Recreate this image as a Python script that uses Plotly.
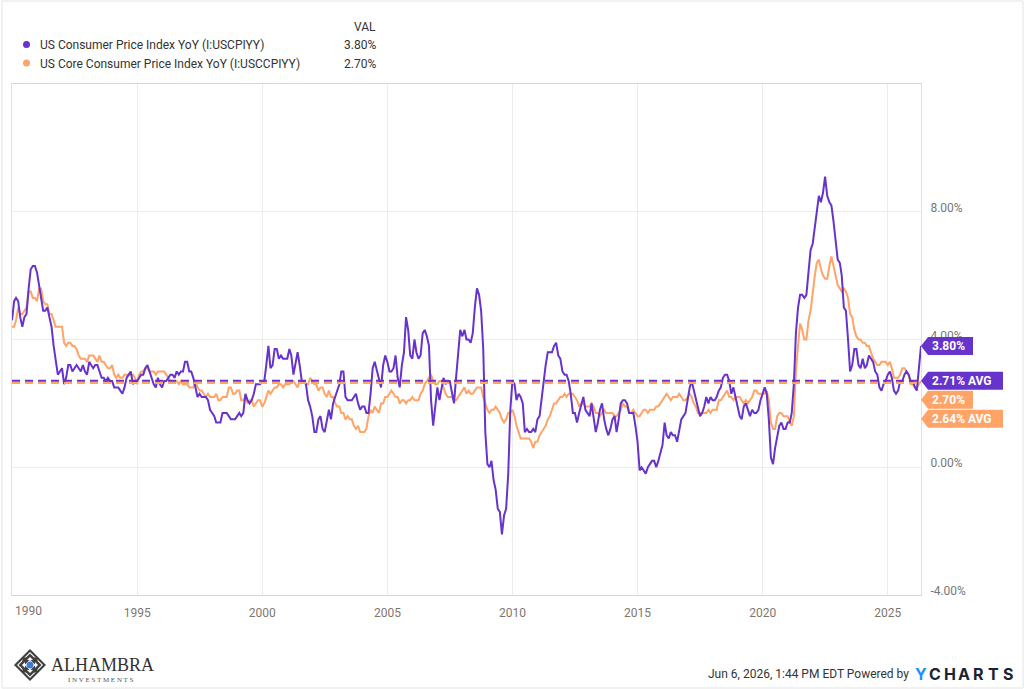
import plotly.graph_objects as go
import pandas as pd

# ---------------- data (monthly YoY %, Dec 1989 .. Apr 2026, month-end dates) ----------------
first_month = "1989-12-01"

cpi_yoy = [
    4.6,                                                          # Dec 1989
    5.2, 5.3, 5.2, 4.7, 4.4, 4.7, 4.8, 5.6, 6.2, 6.3, 6.3, 6.1,   # 1990
    5.7, 5.3, 4.9, 4.9, 5.0, 4.7, 4.4, 3.8, 3.4, 2.9, 3.0, 3.1,   # 1991
    2.6, 2.8, 3.2, 3.2, 3.0, 3.1, 3.2, 3.1, 3.0, 3.2, 3.0, 2.9,   # 1992
    3.3, 3.2, 3.1, 3.2, 3.2, 3.0, 2.8, 2.8, 2.7, 2.8, 2.7, 2.7,   # 1993
    2.5, 2.5, 2.5, 2.4, 2.3, 2.5, 2.8, 2.9, 3.0, 2.6, 2.7, 2.7,   # 1994
    2.8, 2.9, 2.9, 3.1, 3.2, 3.0, 2.8, 2.6, 2.5, 2.8, 2.6, 2.5,   # 1995
    2.7, 2.7, 2.8, 2.9, 2.9, 2.8, 3.0, 2.9, 3.0, 3.0, 3.3, 3.3,   # 1996
    3.0, 3.0, 2.8, 2.5, 2.2, 2.3, 2.2, 2.2, 2.2, 2.1, 1.8, 1.7,   # 1997
    1.6, 1.4, 1.4, 1.4, 1.7, 1.7, 1.7, 1.6, 1.5, 1.5, 1.5, 1.6,   # 1998
    1.7, 1.6, 1.7, 2.3, 2.1, 2.0, 2.1, 2.3, 2.6, 2.6, 2.6, 2.7,   # 1999
    2.7, 3.2, 3.8, 3.1, 3.2, 3.7, 3.7, 3.4, 3.5, 3.4, 3.4, 3.4,   # 2000
    3.7, 3.5, 2.9, 3.3, 3.6, 3.2, 2.7, 2.7, 2.6, 2.1, 1.9, 1.6,   # 2001
    1.1, 1.1, 1.5, 1.6, 1.2, 1.1, 1.5, 1.8, 1.5, 2.0, 2.2, 2.4,   # 2002
    2.6, 3.0, 3.0, 2.2, 2.1, 2.1, 2.1, 2.2, 2.3, 2.0, 1.8, 1.9,   # 2003
    1.9, 1.7, 1.7, 2.3, 3.1, 3.3, 3.0, 2.7, 2.5, 3.2, 3.5, 3.3,   # 2004
    3.0, 3.0, 3.1, 3.5, 2.8, 2.5, 3.2, 3.6, 4.7, 4.3, 3.5, 3.4,   # 2005
    4.0, 3.6, 3.4, 3.5, 4.2, 4.3, 4.1, 3.8, 2.1, 1.3, 2.0, 2.5,   # 2006
    2.1, 2.4, 2.8, 2.6, 2.7, 2.7, 2.4, 2.0, 2.8, 3.5, 4.3, 4.1,   # 2007
    4.3, 4.0, 4.0, 3.9, 4.2, 5.0, 5.6, 5.4, 4.9, 3.7, 1.1, 0.1,   # 2008
    0.0, 0.2, -0.4, -0.7, -1.3, -1.4, -2.1, -1.5, -1.3, -0.2, 1.8, 2.7,  # 2009
    2.6, 2.1, 2.3, 2.2, 2.0, 1.1, 1.2, 1.1, 1.1, 1.2, 1.1, 1.5,   # 2010
    1.6, 2.1, 2.7, 3.2, 3.6, 3.6, 3.6, 3.8, 3.9, 3.5, 3.4, 3.0,   # 2011
    2.9, 2.9, 2.7, 2.3, 1.7, 1.7, 1.4, 1.7, 2.0, 2.2, 1.8, 1.7,   # 2012
    1.6, 2.0, 1.5, 1.1, 1.4, 1.8, 2.0, 1.5, 1.2, 1.0, 1.2, 1.5,   # 2013
    1.6, 1.1, 1.5, 2.0, 2.1, 2.1, 2.0, 1.7, 1.7, 1.7, 1.3, 0.8,   # 2014
    -0.1, 0.0, -0.1, -0.2, 0.0, 0.1, 0.2, 0.2, 0.0, 0.2, 0.5, 0.7,  # 2015
    1.4, 1.0, 0.9, 1.1, 1.0, 1.0, 0.8, 1.1, 1.5, 1.6, 1.7, 2.1,   # 2016
    2.5, 2.7, 2.4, 2.2, 1.9, 1.6, 1.7, 1.9, 2.2, 2.0, 2.2, 2.1,   # 2017
    2.1, 2.2, 2.4, 2.5, 2.8, 2.9, 2.9, 2.7, 2.3, 2.5, 2.2, 1.9,   # 2018
    1.6, 1.5, 1.9, 2.0, 1.8, 1.6, 1.8, 1.7, 1.7, 1.8, 2.1, 2.3,   # 2019
    2.5, 2.3, 1.5, 0.3, 0.1, 0.6, 1.0, 1.3, 1.4, 1.2, 1.2, 1.4,   # 2020
    1.4, 1.7, 2.6, 4.2, 5.0, 5.4, 5.4, 5.3, 5.4, 6.2, 6.8, 7.0,   # 2021
    7.5, 7.9, 8.5, 8.3, 8.6, 9.1, 8.5, 8.3, 8.2, 7.7, 7.1, 6.5,   # 2022
    6.4, 6.0, 5.0, 4.9, 4.0, 3.0, 3.2, 3.7, 3.7, 3.2, 3.1, 3.4,   # 2023
    3.1, 3.2, 3.5, 3.4, 3.3, 3.0, 2.9, 2.5, 2.4, 2.6, 2.7, 2.9,   # 2024
    3.0, 2.8, 2.4, 2.3, 2.4, 2.7, 2.7, 2.9, 3.0, 2.9, 2.7, 2.7,   # 2025
    2.5, 2.4, 3.1, 3.8,                                           # 2026
]

core_yoy = [
    4.4,                                                          # Dec 1989
    4.4, 4.6, 5.0, 4.8, 4.8, 4.9, 5.0, 5.5, 5.5, 5.3, 5.3, 5.2,   # 1990
    5.6, 5.6, 5.2, 5.1, 5.1, 4.8, 4.8, 4.6, 4.4, 4.4, 4.4, 4.4,   # 1991
    3.9, 3.8, 3.9, 3.9, 3.8, 3.8, 3.7, 3.5, 3.4, 3.4, 3.4, 3.3,   # 1992
    3.5, 3.5, 3.5, 3.4, 3.3, 3.5, 3.3, 3.3, 3.2, 3.1, 3.1, 3.2,   # 1993
    2.9, 2.8, 2.9, 2.8, 2.8, 2.9, 2.9, 2.9, 2.9, 2.9, 2.8, 2.6,   # 1994
    2.9, 3.0, 3.0, 3.1, 3.1, 3.0, 3.0, 3.0, 2.9, 3.0, 3.0, 3.0,   # 1995
    3.0, 2.9, 2.8, 2.7, 2.7, 2.7, 2.7, 2.6, 2.7, 2.6, 2.6, 2.6,   # 1996
    2.5, 2.5, 2.5, 2.7, 2.5, 2.4, 2.4, 2.3, 2.2, 2.3, 2.2, 2.2,   # 1997
    2.2, 2.3, 2.1, 2.1, 2.2, 2.2, 2.2, 2.5, 2.5, 2.3, 2.3, 2.4,   # 1998
    2.4, 2.1, 2.1, 2.2, 2.0, 2.1, 2.1, 1.9, 2.0, 2.1, 2.1, 1.9,   # 1999
    2.0, 2.2, 2.4, 2.3, 2.4, 2.5, 2.5, 2.6, 2.6, 2.5, 2.6, 2.6,   # 2000
    2.6, 2.7, 2.7, 2.6, 2.5, 2.7, 2.7, 2.7, 2.6, 2.6, 2.8, 2.7,   # 2001
    2.6, 2.6, 2.4, 2.5, 2.5, 2.3, 2.2, 2.4, 2.2, 2.2, 2.0, 1.9,   # 2002
    1.9, 1.7, 1.7, 1.5, 1.6, 1.5, 1.5, 1.3, 1.2, 1.3, 1.1, 1.1,   # 2003
    1.1, 1.2, 1.6, 1.8, 1.7, 1.9, 1.8, 1.7, 2.0, 2.0, 2.2, 2.2,   # 2004
    2.3, 2.4, 2.3, 2.2, 2.2, 2.0, 2.1, 2.1, 2.0, 2.1, 2.1, 2.2,   # 2005
    2.1, 2.1, 2.1, 2.3, 2.4, 2.6, 2.7, 2.8, 2.9, 2.7, 2.6, 2.6,   # 2006
    2.7, 2.7, 2.5, 2.3, 2.2, 2.2, 2.2, 2.1, 2.1, 2.2, 2.3, 2.4,   # 2007
    2.5, 2.3, 2.4, 2.3, 2.3, 2.4, 2.5, 2.5, 2.5, 2.2, 2.0, 1.8,   # 2008
    1.7, 1.8, 1.8, 1.9, 1.8, 1.7, 1.5, 1.4, 1.5, 1.7, 1.7, 1.8,   # 2009
    1.6, 1.3, 1.1, 0.9, 0.9, 0.9, 0.9, 0.9, 0.8, 0.6, 0.8, 0.8,   # 2010
    1.0, 1.1, 1.2, 1.3, 1.5, 1.6, 1.8, 2.0, 2.0, 2.1, 2.2, 2.2,   # 2011
    2.3, 2.2, 2.3, 2.3, 2.3, 2.2, 2.1, 1.9, 2.0, 2.0, 1.9, 1.9,   # 2012
    1.9, 2.0, 1.9, 1.7, 1.7, 1.6, 1.7, 1.8, 1.7, 1.7, 1.7, 1.7,   # 2013
    1.6, 1.6, 1.7, 1.8, 2.0, 1.9, 1.9, 1.7, 1.7, 1.8, 1.7, 1.6,   # 2014
    1.6, 1.7, 1.8, 1.8, 1.7, 1.8, 1.8, 1.8, 1.9, 1.9, 2.0, 2.1,   # 2015
    2.2, 2.3, 2.2, 2.1, 2.2, 2.2, 2.2, 2.3, 2.2, 2.1, 2.1, 2.2,   # 2016
    2.3, 2.2, 2.0, 1.9, 1.7, 1.7, 1.7, 1.7, 1.7, 1.8, 1.7, 1.8,   # 2017
    1.8, 1.8, 2.1, 2.1, 2.2, 2.3, 2.4, 2.2, 2.2, 2.1, 2.2, 2.2,   # 2018
    2.2, 2.1, 2.0, 2.1, 2.0, 2.1, 2.2, 2.4, 2.4, 2.3, 2.3, 2.3,   # 2019
    2.3, 2.4, 2.1, 1.4, 1.2, 1.2, 1.6, 1.7, 1.7, 1.6, 1.6, 1.6,   # 2020
    1.4, 1.3, 1.6, 3.0, 3.8, 4.5, 4.3, 4.0, 4.0, 4.6, 4.9, 5.5,   # 2021
    6.0, 6.4, 6.5, 6.2, 6.0, 5.9, 5.9, 6.3, 6.6, 6.3, 6.0, 5.7,   # 2022
    5.6, 5.5, 5.6, 5.5, 5.3, 4.8, 4.7, 4.3, 4.1, 4.0, 4.0, 3.9,   # 2023
    3.9, 3.8, 3.8, 3.6, 3.4, 3.3, 3.2, 3.2, 3.3, 3.3, 3.3, 3.2,   # 2024
    3.3, 3.1, 2.8, 2.8, 2.8, 2.9, 3.1, 3.1, 3.0, 2.9, 2.6, 2.6,   # 2025
    2.5, 2.5, 2.6, 2.7,                                           # 2026
]

series_names = ["US Consumer Price Index YoY (I:USCPIYY)",
                "US Core Consumer Price Index YoY (I:USCCPIYY)"]
last_values = [3.80, 2.70]
avg_values = [2.71, 2.64]
x_tick_years = [1990, 1995, 2000, 2005, 2010, 2015, 2020, 2025]
y_tick_vals = [-4, 0, 4, 8]
y_tick_text = ["-4.00%", "0.00%", "4.00%", "8.00%"]

# ---------------- styling ----------------
PURPLE = "#6633CC"
ORANGE = "#FFA366"
W, H = 1024, 689
ML, MR, MT, MB = 12, 103, 84, 94
PW, PH = W - ML - MR, H - MT - MB
Y_MIN, Y_MAX = -4, 12
FONT = "Roboto"


def px_x(px):
    return (px - ML) / PW


def px_y(py):
    return (H - MB - py) / PH


def val_y(v):
    return (v - Y_MIN) / (Y_MAX - Y_MIN)


dates = pd.date_range(first_month, periods=len(cpi_yoy), freq="MS") + pd.offsets.MonthEnd(0)

fig = go.Figure()
fig.add_trace(go.Scatter(x=dates, y=core_yoy, mode="lines", name=series_names[1],
                         line=dict(color=ORANGE, width=2), hoverinfo="skip"))
fig.add_trace(go.Scatter(x=dates, y=cpi_yoy, mode="lines", name=series_names[0],
                         line=dict(color=PURPLE, width=2), hoverinfo="skip"))

shapes = []
annotations = []

# average dashed lines
for v, c in [(avg_values[1], ORANGE), (avg_values[0], PURPLE)]:
    shapes.append(dict(type="line", xref="paper", x0=0, x1=1, yref="y", y0=v, y1=v,
                       line=dict(color=c, width=2, dash="8px,5px"), layer="above"))

# right-side value tags (stacked to avoid overlap)
tags = [(last_values[0], f"{last_values[0]:.2f}%", PURPLE, 52),
        (avg_values[0], f"{avg_values[0]:.2f}% AVG", PURPLE, 82),
        (last_values[1], f"{last_values[1]:.2f}%", ORANGE, 52),
        (avg_values[1], f"{avg_values[1]:.2f}% AVG", ORANGE, 82)]
px_per_unit = PH / (Y_MAX - Y_MIN)
prev_center = None
for v, txt, col, w in tags:
    natural = MT + (Y_MAX - v) * px_per_unit
    center = natural if prev_center is None else max(natural, prev_center + 19)
    d = center - natural
    prev_center = center
    hh = 9
    path = (f"M0,{-d} L7,{-d + hh} L{w},{-d + hh} L{w},{-d - hh} L7,{-d - hh} Z")
    shapes.append(dict(type="path", xref="paper", yref="paper",
                       xsizemode="pixel", ysizemode="pixel",
                       xanchor=1, yanchor=val_y(v), path=path,
                       fillcolor=col, line=dict(width=0), layer="above"))
    annotations.append(dict(xref="paper", yref="paper", x=1, y=val_y(v),
                            xanchor="left", yanchor="middle", xshift=9, yshift=-d,
                            text=f"<b>{txt}</b>", showarrow=False,
                            font=dict(family=FONT, size=12, color="white")))

# x tick label for 1990 (left-aligned at plot edge)
annotations.append(dict(xref="paper", yref="paper", x=px_x(13), y=px_y(611),
                        xanchor="left", yanchor="middle", text=str(x_tick_years[0]),
                        showarrow=False, font=dict(family=FONT, size=12, color="#7f766e")))

# legend block
annotations.append(dict(xref="paper", yref="paper", x=px_x(378), y=px_y(27),
                        xanchor="right", yanchor="middle", text="VAL", showarrow=False,
                        font=dict(family=FONT, size=12, color="#333333")))
for i, (nm, val, col) in enumerate(zip(series_names, last_values, [PURPLE, ORANGE])):
    yy = 45 + i * 18.5
    shapes.append(dict(type="circle", xref="paper", yref="paper",
                       xsizemode="pixel", ysizemode="pixel",
                       xanchor=px_x(26.5), yanchor=px_y(yy - 0.5),
                       x0=-3.5, x1=3.5, y0=-3.5, y1=3.5,
                       fillcolor=col, line=dict(width=0)))
    annotations.append(dict(xref="paper", yref="paper", x=px_x(38), y=px_y(yy),
                            xanchor="left", yanchor="middle", text=nm, showarrow=False,
                            font=dict(family=FONT, size=12, color="#333333")))
    annotations.append(dict(xref="paper", yref="paper", x=px_x(378), y=px_y(yy),
                            xanchor="right", yanchor="middle", text=f"{val:.2f}%",
                            showarrow=False, font=dict(family=FONT, size=12, color="#333333")))

# outer frame
shapes.append(dict(type="rect", xref="paper", yref="paper",
                   x0=px_x(2), x1=px_x(1023), y0=px_y(688), y1=px_y(1),
                   line=dict(color="#e3e3e3", width=1), layer="below"))

# Alhambra logo (diamond emblem + wordmark)
cx, cy = px_x(30), px_y(665)


def diamond(r):
    return f"M0,{r} L{r},0 L0,{-r} L{-r},0 Z"


def square(r):
    return f"M{-r},{-r} L{r},{-r} L{r},{r} L{-r},{r} Z"


for path, fill in [(diamond(16), "#3f3f3f"), (diamond(13), "white"),
                   (diamond(11.5), "#3f3f3f"), (square(7.5), "#3f3f3f"),
                   (diamond(8), "white"), (square(5), "#3f3f3f"), (diamond(5.5), "white")]:
    shapes.append(dict(type="path", xref="paper", yref="paper",
                       xsizemode="pixel", ysizemode="pixel", xanchor=cx, yanchor=cy,
                       path=path, fillcolor=fill, line=dict(width=0)))
shapes.append(dict(type="circle", xref="paper", yref="paper",
                   xsizemode="pixel", ysizemode="pixel", xanchor=cx, yanchor=cy,
                   x0=-3.5, x1=3.5, y0=-3.5, y1=3.5, fillcolor="#3d7bd6", line=dict(width=0)))
annotations.append(dict(xref="paper", yref="paper", x=px_x(49), y=px_y(665),
                        xanchor="left", yanchor="middle", text="ALHAMBRA", showarrow=False,
                        font=dict(family="Liberation Serif", size=18, color="#333333")))
annotations.append(dict(xref="paper", yref="paper", x=px_x(100), y=px_y(680),
                        xanchor="center", yanchor="middle", text="I N V E S T M E N T S",
                        showarrow=False,
                        font=dict(family="Liberation Serif", size=7, color="#555555")))

# footer timestamp + YCharts wordmark
annotations.append(dict(xref="paper", yref="paper", x=px_x(911), y=px_y(674),
                        xanchor="right", yanchor="middle",
                        text="Jun 6, 2026, 1:44 PM EDT Powered by", showarrow=False,
                        font=dict(family=FONT, size=12, color="#333333")))
for i, ch in enumerate("YCHARTS"):
    annotations.append(dict(xref="paper", yref="paper", x=px_x(920.6 + i * 14.5), y=px_y(674),
                            xanchor="center", yanchor="middle", text=f"<b>{ch}</b>",
                            showarrow=False,
                            font=dict(family="Inter", size=16,
                                      color="#1a8fff" if i == 0 else "#1b2236")))

fig.update_layout(
    width=W, height=H,
    margin=dict(l=ML, r=MR, t=MT, b=MB),
    paper_bgcolor="white", plot_bgcolor="white",
    showlegend=False,
    font=dict(family=FONT),
    shapes=shapes, annotations=annotations,
    xaxis=dict(
        type="date", range=["1989-12-31", "2026-04-30"],
        tickvals=[f"{y}-01-01" for y in x_tick_years[1:]],
        ticktext=[str(y) for y in x_tick_years[1:]],
        showgrid=True, gridcolor="#ececec", gridwidth=1,
        showline=True, linecolor="#d6d6d6", linewidth=1, mirror=True,
        ticks="", ticklabelstandoff=7,
        tickfont=dict(family=FONT, size=12, color="#7f766e"),
        zeroline=False, fixedrange=True,
    ),
    yaxis=dict(
        side="right", range=[Y_MIN, Y_MAX],
        tickvals=y_tick_vals, ticktext=y_tick_text,
        showgrid=True, gridcolor="#ececec", gridwidth=1,
        showline=True, linecolor="#e2e2e2", linewidth=1, mirror=True,
        ticks="", ticklabelstandoff=6, ticklabelshift=-4,
        tickfont=dict(family=FONT, size=12, color="#777777"),
        zeroline=False, fixedrange=True,
    ),
)

fig.write_html("out.html")
